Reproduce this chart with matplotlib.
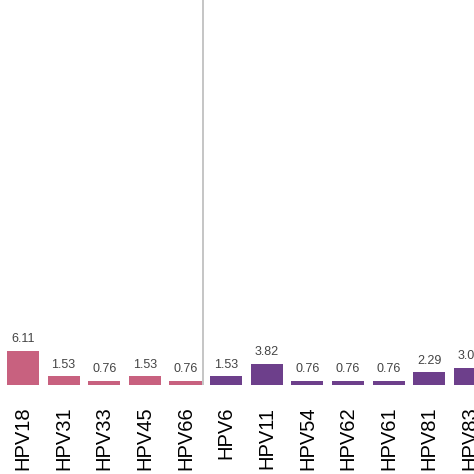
import matplotlib.pyplot as plt

types = ['HPV18', 'HPV31', 'HPV33', 'HPV45', 'HPV66',
         'HPV6', 'HPV11', 'HPV54', 'HPV62', 'HPV61', 'HPV81', 'HPV83']
percent = [6.11, 1.53, 0.76, 1.53, 0.76,
           1.53, 3.82, 0.76, 0.76, 0.76, 2.29, 3.05]
n_high_risk = 5

pink = '#c8617f'
purple = '#6d3f8b'

plt.rcParams['font.family'] = ['Liberation Sans', 'DejaVu Sans']

fig = plt.figure(figsize=(4.74, 4.74), dpi=100)
ax = fig.add_axes([0, 89 / 474, 1, 385 / 474])

x = list(range(len(types)))
colors = [pink if i < n_high_risk else purple for i in x]
bars = ax.bar(x, percent, width=0.79, color=colors)

for b, v in zip(bars, percent):
    ax.text(b.get_x() + b.get_width() / 2, v + 1.0, f'{v:.2f}',
            ha='center', va='bottom', fontsize=9, color='#444444')

# separator between high-risk and low-risk types
ax.axvline(n_high_risk - 0.58, color='#bbbbbb', lw=1.2)

ax.set_xlim(-0.565, 11.1)
ax.set_ylim(0, 69.2)
ax.set_xticks(x)
ax.set_xticklabels(types, rotation=90, fontsize=14.5, color='black')
ax.tick_params(axis='x', length=0, pad=15.5)
ax.set_yticks([])
for s in ax.spines.values():
    s.set_visible(False)

fig.savefig('out.png', dpi=100)
